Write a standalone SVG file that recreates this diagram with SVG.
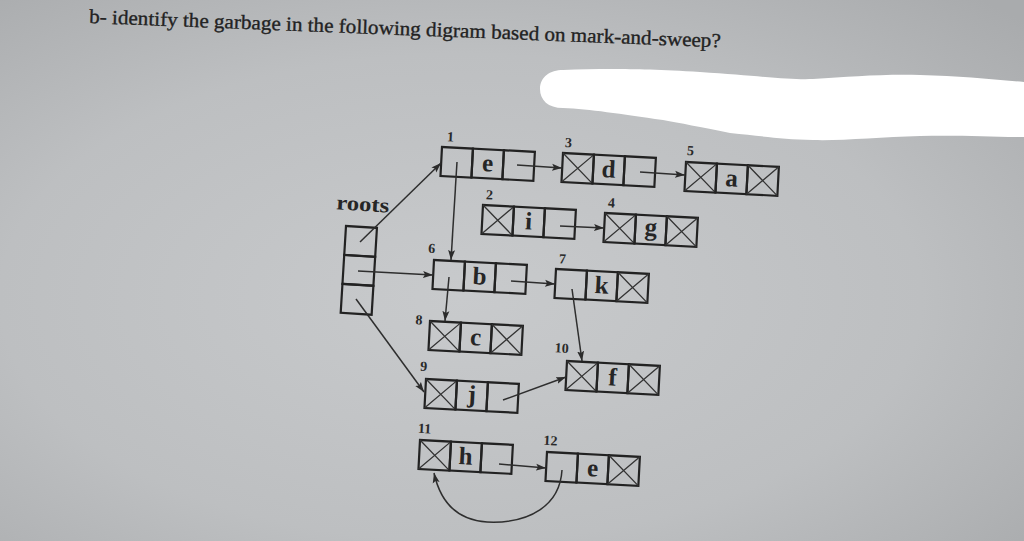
<svg xmlns="http://www.w3.org/2000/svg" width="1024" height="541" viewBox="0 0 1024 541">
<defs>
<radialGradient id="bg" cx="0.45" cy="0.55" r="0.75">
<stop offset="0" stop-color="#c8cacc"/>
<stop offset="0.6" stop-color="#bdbfc1"/>
<stop offset="1" stop-color="#a9abad"/>
</radialGradient>
<marker id="ah" viewBox="0 0 10 8" refX="10" refY="4" markerWidth="10" markerHeight="8" markerUnits="userSpaceOnUse" orient="auto">
<path d="M0,0.5 L10,4 L0,7.5 L2,4 Z" fill="#2b2b2b"/>
</marker>
<g id="cell"><rect width="31" height="29" class="box"/></g>
<g id="xcell"><rect width="31" height="29" class="box"/><path d="M0,0 L31,29 M31,0 L0,29" class="x"/></g>
</defs>
<style>
.box{fill:none;stroke:#222;stroke-width:2.2}
.x{stroke:#333;stroke-width:1.3;fill:none}
.lt{font-family:"Liberation Serif","Times New Roman",serif;font-size:25px;font-weight:bold;fill:#262626;text-anchor:middle}
.num{font-family:"Liberation Serif","Times New Roman",serif;font-size:14px;font-weight:bold;fill:#2a2a2a;text-anchor:middle}
.conn path,.conn line{stroke:#2e2e2e;stroke-width:1.5;fill:none}
</style>
<rect width="1024" height="541" fill="url(#bg)"/>
<path d="M563,70 C600,69 630,68 700,72 C760,76 790,80 813,79 C850,77 880,74 920,75 C960,76 990,79 1024,82 L1024,137 C990,137 960,135 920,136 C880,137 840,141 813,140 C780,139 760,136 730,133 C700,127 680,123 663,120 C620,114 590,109 563,108 C548,108 540,100 540,89 C540,77 550,70 563,70 Z" fill="#ffffff"/>
<text x="89" y="23" transform="rotate(2.2 89 23)" font-family="Liberation Serif, Times New Roman, serif" font-size="20" fill="#222" stroke="#222" stroke-width="0.35" textLength="632" lengthAdjust="spacingAndGlyphs">b- identify the garbage in the following digram based on mark-and-sweep?</text>

<g id="roots" transform="translate(346,226) rotate(3.5)">
<text x="-11" y="-16" font-family="Liberation Serif, Times New Roman, serif" font-size="21" font-weight="bold" fill="#262626" textLength="53" lengthAdjust="spacingAndGlyphs">roots</text>
<use href="#cell"/><use href="#cell" y="29"/><use href="#cell" y="58"/>
</g>

<g id="n1" transform="translate(442,147) rotate(3)">
<text class="num" x="8" y="-6">1</text>
<use href="#cell"/><use href="#cell" x="31"/><use href="#cell" x="62"/>
<text class="lt" x="46.5" y="22">e</text>
</g>
<g id="n2" transform="translate(483,205) rotate(3)">
<text class="num" x="6" y="-6">2</text>
<use href="#xcell"/><use href="#cell" x="31"/><use href="#cell" x="62"/>
<text class="lt" x="46.5" y="22">i</text>
</g>
<g id="n3" transform="translate(563,153) rotate(3)">
<text class="num" x="5" y="-6">3</text>
<use href="#xcell"/><use href="#cell" x="31"/><use href="#cell" x="62"/>
<text class="lt" x="46.5" y="22">d</text>
</g>
<g id="n4" transform="translate(605,213) rotate(3)">
<text class="num" x="6" y="-6">4</text>
<use href="#xcell"/><use href="#cell" x="31"/><use href="#xcell" x="62"/>
<text class="lt" x="46.5" y="20">g</text>
</g>
<g id="n5" transform="translate(686,162) rotate(3)">
<text class="num" x="4" y="-7">5</text>
<use href="#xcell"/><use href="#cell" x="31"/><use href="#xcell" x="62"/>
<text class="lt" x="46.5" y="22">a</text>
</g>
<g id="n6" transform="translate(434,260) rotate(3)">
<text class="num" x="-3" y="-7">6</text>
<use href="#cell"/><use href="#cell" x="31"/><use href="#cell" x="62"/>
<text class="lt" x="46.5" y="22">b</text>
</g>
<g id="n7" transform="translate(556,269) rotate(3)">
<text class="num" x="6" y="-6">7</text>
<use href="#cell"/><use href="#cell" x="31"/><use href="#xcell" x="62"/>
<text class="lt" x="46.5" y="22">k</text>
</g>
<g id="n8" transform="translate(430,321) rotate(3)">
<text class="num" x="-11" y="4">8</text>
<use href="#xcell"/><use href="#cell" x="31"/><use href="#xcell" x="62"/>
<text class="lt" x="46.5" y="22">c</text>
</g>
<g id="n9" transform="translate(426,379) rotate(3)">
<text class="num" x="-3" y="-8">9</text>
<use href="#xcell"/><use href="#cell" x="31"/><use href="#cell" x="62"/>
<text class="lt" x="46.5" y="21">j</text>
</g>
<g id="n10" transform="translate(567,361) rotate(3)">
<text class="num" x="-6" y="-8">10</text>
<use href="#xcell"/><use href="#cell" x="31"/><use href="#xcell" x="62"/>
<text class="lt" x="46.5" y="22">f</text>
</g>
<g id="n11" transform="translate(420,440) rotate(3)">
<text class="num" x="4" y="-7">11</text>
<use href="#xcell"/><use href="#cell" x="31"/><use href="#cell" x="62"/>
<text class="lt" x="46.5" y="22">h</text>
</g>
<g id="n12" transform="translate(547,452) rotate(3)">
<text class="num" x="3" y="-7">12</text>
<use href="#cell"/><use href="#cell" x="31"/><use href="#xcell" x="62"/>
<text class="lt" x="46.5" y="22">e</text>
</g>

<g id="connectors" class="conn">
<line x1="360" y1="242" x2="441" y2="163" marker-end="url(#ah)"/>
<line x1="358" y1="271" x2="433" y2="275" marker-end="url(#ah)"/>
<line x1="356" y1="299" x2="424" y2="392" marker-end="url(#ah)"/>
<line x1="457" y1="162" x2="451" y2="260" marker-end="url(#ah)"/>
<line x1="517" y1="165" x2="562" y2="168" marker-end="url(#ah)"/>
<line x1="640" y1="172" x2="685" y2="175" marker-end="url(#ah)"/>
<line x1="560" y1="226" x2="604" y2="228" marker-end="url(#ah)"/>
<line x1="449" y1="277" x2="445" y2="321" marker-end="url(#ah)"/>
<line x1="511" y1="281" x2="555" y2="284" marker-end="url(#ah)"/>
<line x1="572" y1="289" x2="582" y2="361" marker-end="url(#ah)"/>
<line x1="503" y1="400" x2="566" y2="377" marker-end="url(#ah)"/>
<line x1="499" y1="464" x2="546" y2="468" marker-end="url(#ah)"/>
<path d="M562,470 C560,505 530,524 487,522 C455,520 440,500 434,473" marker-end="url(#ah)"/>
</g>
</svg>
